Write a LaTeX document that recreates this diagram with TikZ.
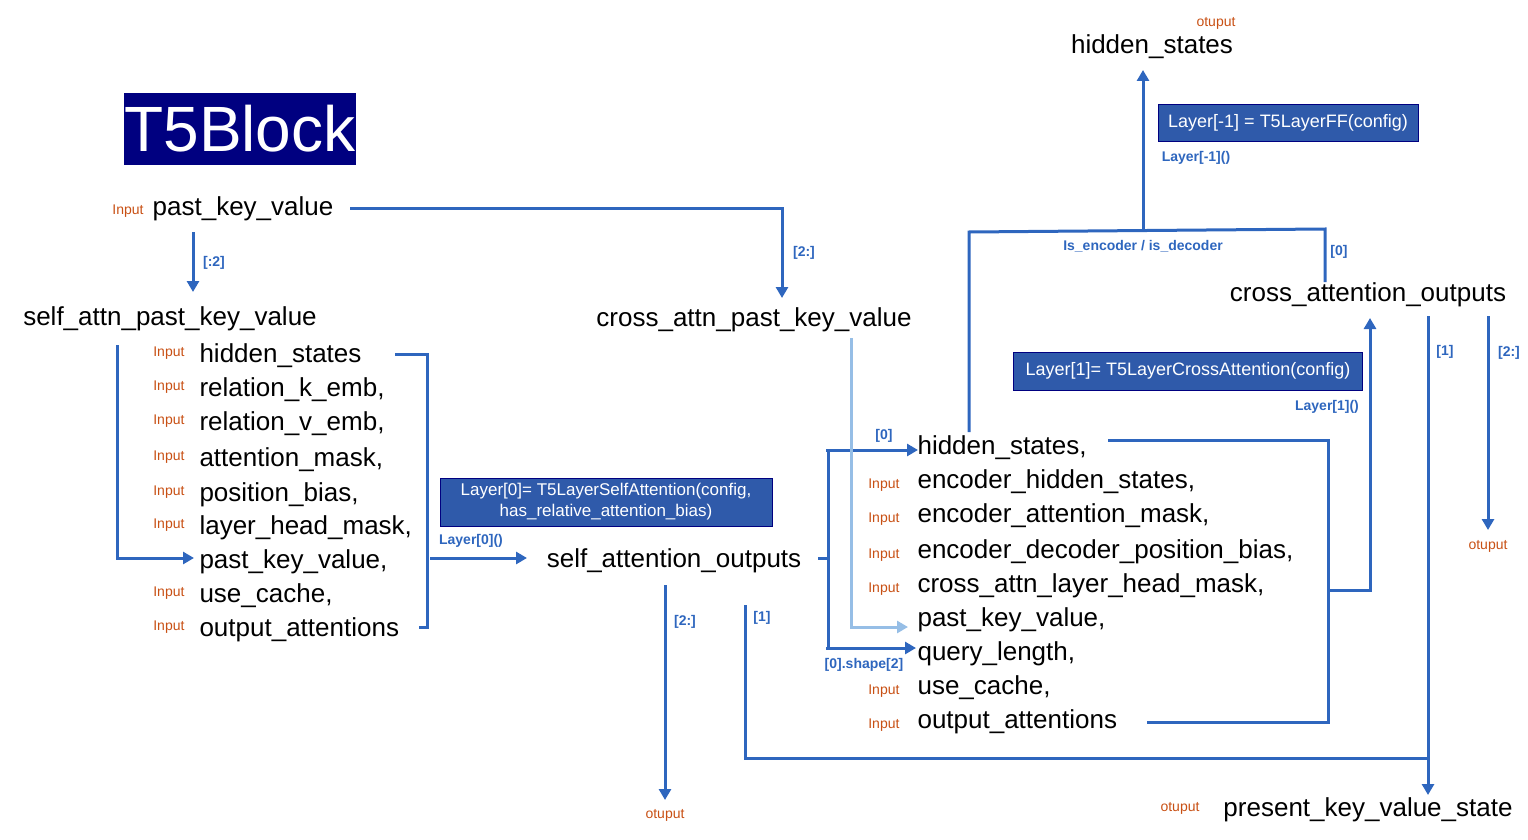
\documentclass[tikz,border=0pt]{standalone}
\usepackage{fontspec}
\setmainfont{Liberation Sans}
\usetikzlibrary{arrows.meta}
\definecolor{ln}{RGB}{46,102,190}
\definecolor{lb}{RGB}{150,190,230}
\definecolor{org}{RGB}{200,80,20}
\definecolor{bx}{RGB}{47,90,170}
\definecolor{navy}{RGB}{0,0,128}
\begin{document}
\begin{tikzpicture}[x=1pt,y=-1pt,
 big/.style={font=\fontsize{26}{28}\selectfont},
 inp/.style={text=org,font=\fontsize{14}{16}\selectfont},
 lab/.style={text=ln,font=\fontsize{14}{16}\selectfont\bfseries},
 box/.style={fill=bx,draw=navy,line width=1pt,text=white,font=\fontsize{18}{20}\selectfont,inner sep=4pt,align=center},
 w/.style={draw=ln,line width=3pt},
 a/.style={w,-{Triangle[length=11pt,width=12pt]}},
 L/.style={big,anchor=west}]
\useasboundingbox (0,0) rectangle (1528,840);
% title
\node[fill=navy,text=white,font=\fontsize{64}{66}\selectfont,minimum width=224pt,minimum height=71pt,inner sep=0pt] (t5) at (240,129) {T5Block};
% top
\node[inp] (o1) at (1216,23) {otuput};
\node[big] (hsout) at (1152,47) {hidden\_states};
\node[box,minimum width=260pt,minimum height=37pt] (ff) at (1288,123) {Layer[-1] = T5LayerFF(config)};
\node[lab] (ffl) at (1196,158) {Layer[-1]()};
% past key value
\node[inp] (i0) at (128,211) {Input};
\node[big] (pkv) at (243,209) {past\_key\_value};
\node[lab] (s1) at (214,263) {[:2]};
\node[lab] (s2) at (804,253) {[2:]};
\node[big] (sapkv) at (170,319) {self\_attn\_past\_key\_value};
\node[big] (capkv) at (754,320) {cross\_attn\_past\_key\_value};
\coordinate (c1) at (782,208);
\draw[a] (350,208) -- (c1) -- (782,298);
\draw[a] (193,232) -- (193,292);
% left list
\foreach \t/\y/\i [count=\k] in {{hidden\_states}/356/1,{relation\_k\_emb,}/390/1,{relation\_v\_emb,}/424/1,{attention\_mask,}/460/1,{position\_bias,}/495/1,{layer\_head\_mask,}/528/1,{past\_key\_value,}/562/0,{use\_cache,}/596/1,{output\_attentions}/630/1}{
 \node[L] (l\k) at (196,\y) {\t};
 \ifnum\i=1 \node[inp,anchor=east] (li\k) at (188,\y-3) {Input};\fi
}
\coordinate (c2) at (117,558);
\draw[a] (117,345) -- (c2) -- (194,558);
\draw[w] (395,354) -- (427,354) -- (427,627) -- (419,627);
\node[box,minimum width=332pt,minimum height=48pt,font=\fontsize{17}{21}\selectfont] (sa) at (606,502) {Layer[0]= T5LayerSelfAttention(config,\\has\_relative\_attention\_bias)};
\node[lab] (sal) at (471,541) {Layer[0]()};
\node[big] (sao) at (674,561) {self\_attention\_outputs};
\draw[a] (430,558) -- (527,558);
\draw[a] (665,585) -- (665,800);
\node[lab] (s3) at (685,622) {[2:]};
\node[inp] (o2) at (665,815) {otuput};
\node[lab] (s4) at (762,618) {[1]};
% right list
\foreach \t/\y/\i [count=\k] in {{hidden\_states,}/448/0,{encoder\_hidden\_states,}/482/1,{encoder\_attention\_mask,}/516/1,{encoder\_decoder\_position\_bias,}/552/1,{cross\_attn\_layer\_head\_mask,}/586/1,{past\_key\_value,}/620/0,{query\_length,}/654/0,{use\_cache,}/688/1,{output\_attentions}/722/1}{
 \node[L] (r\k) at (914,\y) {\t};
 \ifnum\i=1 \node[inp,anchor=east] (ri\k) at (903,\y+3) {Input};\fi
}
\draw[w] (818,558) -- (828,558);
\draw[w] (828,450) -- (828,648);
\draw[a] (826,450) -- (918,450);
\draw[a] (826,648) -- (916,648);
\node[lab] (s5) at (884,436) {[0]};
\node[lab] (s6) at (864,665) {[0].shape[2]};
\draw[draw=lb,line width=3pt,-{Triangle[length=11pt,width=12pt]}] (851,338) -- (851,627) -- (908,627);
\draw[w] (1108,440) -- (1328,440) -- (1328,722) -- (1147,722);
\draw[a] (1328,590) -- (1370,590) -- (1370,318);
\node[box,minimum width=349pt,minimum height=38pt] (ca) at (1188,371) {Layer[1]= T5LayerCrossAttention(config)};
\node[lab] (cal) at (1327,407) {Layer[1]()};
\node[big] (cao) at (1368,295) {cross\_attention\_outputs};
\draw[w] (969,432) -- (969,232) -- (1325,229) -- (1325,282);
\draw[a] (1143,231) -- (1143,70);
\node[lab] (s7) at (1339,252) {[0]};
\node[lab] (s8) at (1143,246) {Is\_encoder / is\_decoder};
\node[lab] (s9) at (1445,352) {[1]};
\node[lab] (s10) at (1509,353) {[2:]};
\draw[a] (1488,316) -- (1488,530);
\node[inp] (o3) at (1488,546) {otuput};
\draw[a] (1428,316) -- (1428,795);
\draw[w] (745,605) -- (745,758) -- (1428,758);
\node[inp] (o4) at (1180,808) {otuput};
\node[big] (pkvs) at (1368,810) {present\_key\_value\_state};
\end{tikzpicture}
\end{document}
